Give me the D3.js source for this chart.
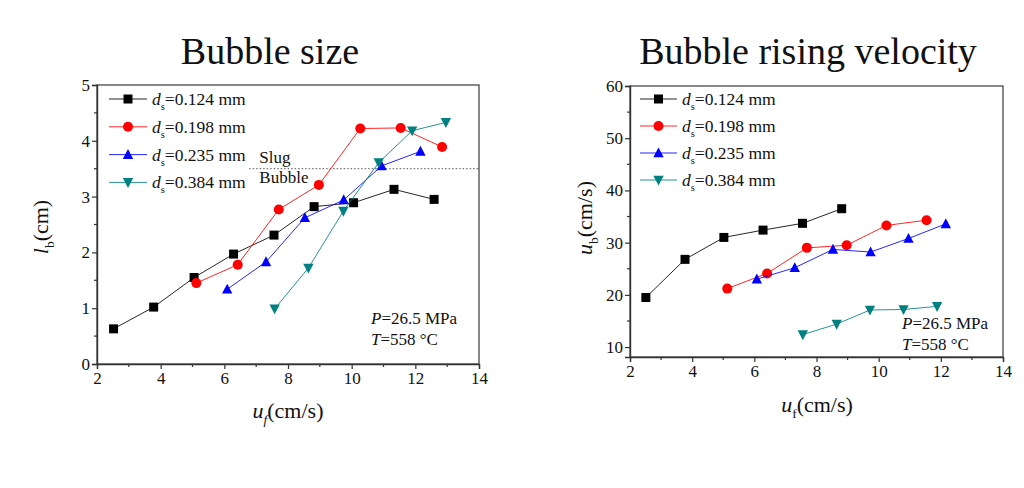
<!DOCTYPE html>
<html><head><meta charset="utf-8">
<script src="https://cdn.jsdelivr.net/npm/d3@7"></script>
<style>body{margin:0;background:#fff}svg{display:block}text{font-family:"Liberation Serif","Times New Roman",serif}</style>
</head><body>
<svg id="c" width="1024" height="488"></svg>
<script>
const seriesLabels = ["0.124 mm", "0.198 mm", "0.235 mm", "0.384 mm"];
const seriesColors = ["#000000", "#ff0000", "#0000ff", "#008080"];
const seriesSymbols = ["square", "circle", "triangleUp", "triangleDown"];

// Bubble size l_b (cm) vs u_f (cm/s)
const size124x = [2.52, 3.78, 5.05, 6.29, 7.56, 8.82, 10.06, 11.33, 12.59];
const size124y = [0.63, 1.02, 1.55, 1.97, 2.31, 2.82, 2.89, 3.13, 2.95];
const size198x = [5.12, 6.42, 7.71, 8.97, 10.27, 11.54, 12.84];
const size198y = [1.45, 1.78, 2.77, 3.21, 4.22, 4.23, 3.89];
const size235x = [6.09, 7.31, 8.53, 9.75, 10.94, 12.16];
const size235y = [1.34, 1.83, 2.62, 2.94, 3.55, 3.81];
const size384x = [7.58, 8.64, 9.74, 10.85, 11.9, 12.96];
const size384y = [0.99, 1.72, 2.74, 3.61, 4.18, 4.33];

// Bubble rising velocity u_b (cm/s) vs u_f (cm/s)
const vel124x = [2.51, 3.77, 5.02, 6.28, 7.55, 8.81];
const vel124y = [19.5, 26.8, 31.0, 32.4, 33.7, 36.5];
const vel198x = [5.13, 6.41, 7.69, 8.97, 10.25, 11.54];
const vel198y = [21.2, 24.1, 29.0, 29.5, 33.3, 34.3];
const vel235x = [6.08, 7.30, 8.53, 9.74, 10.96, 12.16];
const vel235y = [23.0, 25.2, 28.7, 28.2, 30.8, 33.6];
const vel384x = [7.56, 8.65, 9.72, 10.80, 11.88];
const vel384y = [12.4, 14.4, 17.1, 17.2, 17.8];

const xTicks = [2, 4, 6, 8, 10, 12, 14];
const sizeYTicks = [0, 1, 2, 3, 4, 5];
const velYTicks = [10, 20, 30, 40, 50, 60];
const slugLimit = 3.5;
const slugStartX = 6.78;

const svg = d3.select("#c");

function symbolPath(kind, size) {
  const s = size;
  if (kind === "square") return `M${-s/2},${-s/2}h${s}v${s}h${-s}Z`;
  if (kind === "circle") { const r = s/2 + 0.5; return `M${r},0A${r},${r} 0 1,1 ${-r},0A${r},${r} 0 1,1 ${r},0Z`; }
  const h = s * 1.0, w = s * 1.15;
  if (kind === "triangleUp") return `M0,${-h*0.62}L${w/2},${h*0.48}L${-w/2},${h*0.48}Z`;
  return `M0,${h*0.62}L${w/2},${-h*0.48}L${-w/2},${-h*0.48}Z`;
}

function drawPanel(cfg) {
  const g = svg.append("g");
  const x = d3.scaleLinear().domain([2, 14]).range([cfg.left, cfg.right]);
  const y = d3.scaleLinear().domain(cfg.yDomain).range([cfg.bottom, cfg.top]);
  const axisColor = "#333";

  g.append("rect").attr("x", cfg.left).attr("y", cfg.top)
    .attr("width", cfg.right - cfg.left).attr("height", cfg.bottom - cfg.top)
    .attr("fill", "none").attr("stroke", "#555").attr("stroke-width", 1.4);

  const xa = g.append("g").attr("transform", `translate(0,${cfg.bottom})`)
    .call(d3.axisBottom(x).tickValues(xTicks).tickSize(5).tickPadding(3).tickFormat(d3.format("d")));
  xa.select(".domain").attr("stroke", axisColor).attr("stroke-width", 1.4);
  xa.selectAll(".tick line").attr("stroke", axisColor).attr("stroke-width", 1.2);
  xa.selectAll(".tick text").attr("font-size", 17).attr("font-family", "Liberation Serif").attr("fill", "#111");
  const xMinor = d3.range(3, 14, 2);
  g.selectAll(".xminor").data(xMinor).join("line")
    .attr("x1", d => x(d)).attr("x2", d => x(d))
    .attr("y1", cfg.bottom).attr("y2", cfg.bottom + 3).attr("stroke", axisColor).attr("stroke-width", 1.2);

  const ya = g.append("g").attr("transform", `translate(${cfg.left},0)`)
    .call(d3.axisLeft(y).tickValues(cfg.yTicks).tickSize(5).tickPadding(2).tickFormat(d3.format("d")));
  ya.select(".domain").attr("stroke", axisColor).attr("stroke-width", 1.4);
  ya.selectAll(".tick line").attr("stroke", axisColor).attr("stroke-width", 1.2);
  ya.selectAll(".tick text").attr("font-size", 17).attr("font-family", "Liberation Serif").attr("fill", "#111");
  g.selectAll(".yminor").data(cfg.yMinor).join("line")
    .attr("x1", cfg.left - 3).attr("x2", cfg.left)
    .attr("y1", d => y(d)).attr("y2", d => y(d)).attr("stroke", axisColor).attr("stroke-width", 1.2);

  if (cfg.extra) cfg.extra(g, x, y);

  const line = d3.line().x(d => x(d[0])).y(d => y(d[1]));
  cfg.series.forEach((s, i) => {
    const pts = s.xs.map((v, k) => [v, s.ys[k]]);
    g.append("path").datum(pts).attr("d", line).attr("fill", "none")
      .attr("stroke", seriesColors[i]).attr("stroke-width", 1).attr("opacity", 0.85);
    g.selectAll(".m" + i).data(pts).join("path")
      .attr("transform", d => `translate(${x(d[0])},${y(d[1])})`)
      .attr("d", symbolPath(seriesSymbols[i], 9))
      .attr("fill", seriesColors[i]);
  });

  seriesLabels.forEach((lab, i) => {
    const ly = cfg.legY + i * cfg.legDy;
    g.append("line").attr("x1", cfg.legX).attr("x2", cfg.legX + cfg.legW)
      .attr("y1", ly).attr("y2", ly).attr("stroke", seriesColors[i]).attr("stroke-width", 1).attr("opacity", 0.85);
    g.append("path").attr("transform", `translate(${cfg.legX + cfg.legW/2},${ly})`)
      .attr("d", symbolPath(seriesSymbols[i], 9)).attr("fill", seriesColors[i]);
    const t = g.append("text").attr("x", cfg.legX + cfg.legW + 5).attr("y", ly + 6)
      .attr("font-size", 17.5).attr("fill", "#111");
    t.append("tspan").attr("font-style", "italic").text("d");
    t.append("tspan").attr("font-size", 10.5).attr("dy", 5).text("s");
    t.append("tspan").attr("dy", -5).text("=" + lab);
  });

  const p = g.append("text").attr("x", cfg.ptX).attr("y", cfg.ptY).attr("font-size", 17).attr("fill", "#111");
  p.append("tspan").attr("font-style", "italic").text("P");
  p.append("tspan").text("=26.5 MPa");
  const tt = g.append("text").attr("x", cfg.ptX).attr("y", cfg.ptY + 21).attr("font-size", 17).attr("fill", "#111");
  tt.append("tspan").attr("font-style", "italic").text("T");
  tt.append("tspan").text("=558 °C");

  g.append("text").attr("x", cfg.titleX).attr("y", 64).attr("text-anchor", "middle")
    .attr("font-size", 38).attr("fill", "#111").text(cfg.title);

  const xl = g.append("text").attr("x", cfg.xlabX).attr("y", cfg.xlabY).attr("text-anchor", "middle")
    .attr("font-size", 22).attr("fill", "#111");
  xl.append("tspan").attr("font-style", "italic").text("u");
  xl.append("tspan").attr("font-size", 13.5).attr("dy", 6).attr("font-style", cfg.subItalic ? "italic" : "normal").text("f");
  xl.append("tspan").attr("dy", -6).text("(cm/s)");

  const yl = g.append("text").attr("transform", `translate(${cfg.ylabX},${cfg.ylabY}) rotate(-90)`)
    .attr("text-anchor", "middle").attr("font-size", 22).attr("fill", "#111");
  yl.append("tspan").attr("font-style", "italic").text(cfg.ySym);
  yl.append("tspan").attr("font-size", 13.5).attr("dy", 6).text("b");
  yl.append("tspan").attr("dy", -6).text(cfg.yUnit);
}

drawPanel({
  left: 97, right: 479, top: 85, bottom: 364,
  yDomain: [0, 5], yTicks: sizeYTicks, yMinor: d3.range(0.5, 5, 1),
  series: [
    {xs: size124x, ys: size124y}, {xs: size198x, ys: size198y},
    {xs: size235x, ys: size235y}, {xs: size384x, ys: size384y}
  ],
  legX: 109, legW: 38, legY: 99, legDy: 27.8,
  ptX: 371, ptY: 324,
  title: "Bubble size", titleX: 270,
  xlabX: 288, xlabY: 418, subItalic: true,
  ylabX: 48, ylabY: 227, ySym: "l", yUnit: "(cm)",
  extra: (g, x, y) => {
    g.append("line").attr("x1", x(slugStartX)).attr("x2", x(14))
      .attr("y1", y(slugLimit)).attr("y2", y(slugLimit))
      .attr("stroke", "#555").attr("stroke-width", 1).attr("stroke-dasharray", "1.5,2");
    g.append("text").attr("x", x(7.1)).attr("y", y(slugLimit) - 6).attr("font-size", 17).attr("fill", "#111").text("Slug");
    g.append("text").attr("x", x(7.1)).attr("y", y(slugLimit) + 14).attr("font-size", 17).attr("fill", "#111").text("Bubble");
  }
});

drawPanel({
  left: 630, right: 1003, top: 86, bottom: 357,
  yDomain: [8.1, 60], yTicks: velYTicks, yMinor: d3.range(15, 60, 10),
  series: [
    {xs: vel124x, ys: vel124y}, {xs: vel198x, ys: vel198y},
    {xs: vel235x, ys: vel235y}, {xs: vel384x, ys: vel384y}
  ],
  legX: 640, legW: 37, legY: 99, legDy: 27,
  ptX: 902, ptY: 329,
  title: "Bubble rising velocity", titleX: 808,
  xlabX: 817, xlabY: 412, subItalic: false,
  ylabX: 592, ylabY: 218, ySym: "u", yUnit: "(cm/s)"
});
</script>
</body></html>
